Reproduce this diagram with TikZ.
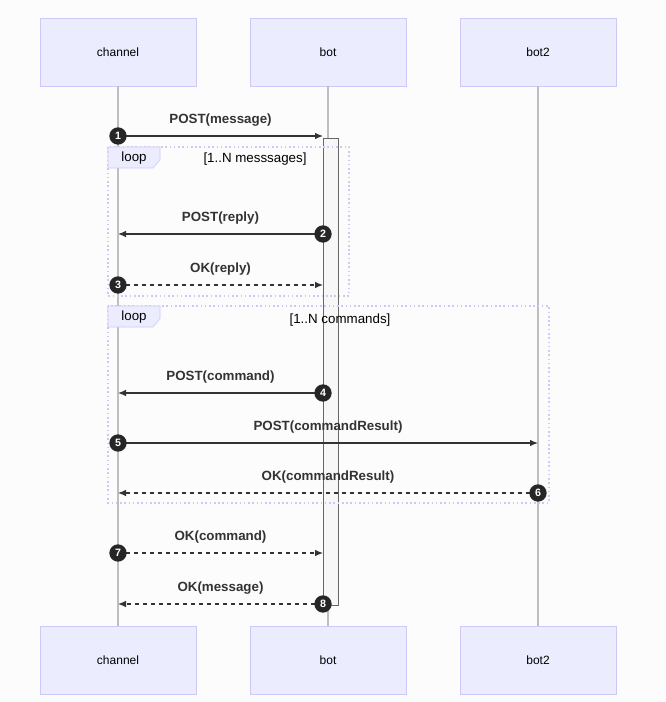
\documentclass[tikz,border=0pt]{standalone}
\usepackage{fontspec}
\setmainfont{Liberation Sans}
\usetikzlibrary{arrows.meta,calc}
\definecolor{actorfill}{RGB}{236,236,255}
\definecolor{actorline}{RGB}{205,200,245}
\begin{document}
\begin{tikzpicture}[x=0.75pt,y=-0.75pt,
  actor/.style={draw=actorline,fill=actorfill,minimum width=117pt,minimum height=51pt,font=\small},
  msg/.style={-{Latex[length=6pt,width=5pt]},line width=0.9pt,draw=black!80},
  reply/.style={msg,dashed},
  num/.style={circle,fill=black!85,text=white,font=\footnotesize\bfseries,inner sep=0pt,minimum size=13pt},
  lbl/.style={font=\bfseries,text=black!80},
  loopbox/.style={draw=actorline,dotted,line width=1.2pt}]
 \fill[black!1] (0,0) rectangle (665,702);
 \useasboundingbox (0,0) rectangle (665,702);
 % lifelines
 \foreach \n/\x in {channel/118,bot/328,bot2/538}{
   \node[actor] (\n-top) at (\x,52) {\n};
   \node[actor] (\n-bot) at (\x,660) {\n};
   \draw[black!25,line width=0.8pt] (\n-top) -- (\n-bot);
 }
 % activation
 \draw[black!60,fill=black!3] (323,138) rectangle (338,605);
 % loops
 \draw[loopbox] (108,147) rectangle (349,296);
 \draw[actorline,fill=actorfill] (108,147) -- (160,147) -- (160,160) -- (153,168) -- (108,168) -- cycle;
 \node at (134,158) {loop};
 \node at (255,159) {[1..N messsages]};
 \draw[loopbox] (108,306) rectangle (549,503);
 \draw[actorline,fill=actorfill] (108,306) -- (160,306) -- (160,319) -- (153,327) -- (108,327) -- cycle;
 \node at (134,317) {loop};
 \node at (340,320) {[1..N commands]};
 % messages
 \foreach \i/\a/\b/\y/\s/\t in {
   1/118/323/136/msg/POST(message),
   2/323/118/234/msg/POST(reply),
   3/118/323/285/reply/OK(reply),
   4/323/118/393/msg/POST(command),
   5/118/538/443/msg/POST(commandResult),
   6/538/118/493/reply/OK(commandResult),
   7/118/323/553/reply/OK(command),
   8/323/118/604/reply/OK(message)}{
   \coordinate (s\i) at (\a,\y);
   \coordinate (e\i) at (\b,\y);
   \draw[\s] (s\i) -- (e\i);
   \node[lbl,above=4pt] at ($(s\i)!0.5!(e\i)$) {\t};
   \node[num] (n\i) at (s\i) {\i};
 }
\end{tikzpicture}
\end{document}
